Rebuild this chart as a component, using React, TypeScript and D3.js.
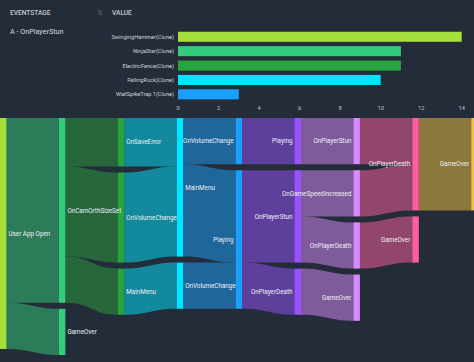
import React from "react";
import * as d3 from "d3";

const W = 474;
const H = 362;
const BG = "#242c39";
const FONT = "Roboto, 'Liberation Sans', sans-serif";

// left table
const tableHeaders = ["EVENTSTAGE", "VALUE"];
const selectedStage = "A - OnPlayerStun";

// bar chart: trap hits for the selected stage
const trapNames = [
  "SwingingHammer(Clone)",
  "NinjaStar(Clone)",
  "ElectricFence(Clone)",
  "FallingRock(Clone)",
  "WallSpikeTrap 1(Clone)",
];
const trapHits = [14, 11, 11, 10, 3];
const valueTicks = [0, 2, 4, 6, 8, 10, 12, 14];

// one colour per step of the flow
const stepColors = [
  "#a5df3b",
  "#33cc7b",
  "#28a340",
  "#00e5ff",
  "#1a9ffd",
  "#9a52ff",
  "#d98aff",
  "#ff5fa0",
  "#f3c142",
];

const flowNodes = [
  { id: "open", name: "User App Open", step: 0 },
  { id: "cam1", name: "OnCamOrthSizeSet", step: 1 },
  { id: "over1", name: "GameOver", step: 1 },
  { id: "save2", name: "OnSaveError", step: 2 },
  { id: "vol2", name: "OnVolumeChange", step: 2 },
  { id: "menu2", name: "MainMenu", step: 2 },
  { id: "menu3", name: "MainMenu", step: 3 },
  { id: "vol3", name: "OnVolumeChange", step: 3 },
  { id: "vol4", name: "OnVolumeChange", step: 4 },
  { id: "play4", name: "Playing", step: 4 },
  { id: "play5", name: "Playing", step: 5 },
  { id: "stun5", name: "OnPlayerStun", step: 5 },
  { id: "death5", name: "OnPlayerDeath", step: 5 },
  { id: "stun6", name: "OnPlayerStun", step: 6 },
  { id: "speed6", name: "OnGameSpeedIncreased", step: 6 },
  { id: "death6", name: "OnPlayerDeath", step: 6 },
  { id: "over6", name: "GameOver", step: 6 },
  { id: "death7", name: "OnPlayerDeath", step: 7 },
  { id: "over7", name: "GameOver", step: 7 },
  { id: "over8", name: "GameOver", step: 8 },
];

const flowLinks: [string, string, number][] = [
  ["open", "cam1", 80],
  ["open", "over1", 20],
  ["cam1", "save2", 21],
  ["cam1", "vol2", 39],
  ["cam1", "menu2", 20],
  ["save2", "menu3", 21],
  ["vol2", "menu3", 39],
  ["menu2", "vol3", 20],
  ["menu3", "vol4", 20],
  ["menu3", "play4", 40],
  ["vol3", "play4", 20],
  ["vol4", "play5", 20],
  ["play4", "stun5", 40],
  ["play4", "death5", 20],
  ["play5", "stun6", 20],
  ["stun5", "speed6", 20],
  ["stun5", "death6", 20],
  ["death5", "over6", 20],
  ["stun6", "death7", 20],
  ["speed6", "death7", 20],
  ["death6", "over7", 20],
  ["death7", "over8", 40],
];

// sankey geometry
const top = 118;
const nodeW = 6.5;
const nodePad = 6;

function layoutFlow() {
  const x = d3.scaleLinear().domain([0, 8]).range([0, 471.2]);
  const h = d3.scaleLinear().domain([0, 100]).range([0, 231]);

  const nodes = flowNodes.map((n) => ({ ...n, value: 0, y0: 0, y1: 0, x0: 0, x1: 0, out: [] as any[], inc: [] as any[] }));
  const byId = new Map(nodes.map((n) => [n.id, n]));
  const links = flowLinks.map(([s, t, v]) => {
    const l = { source: byId.get(s)!, target: byId.get(t)!, value: v, sy0: 0, sy1: 0, ty0: 0, ty1: 0 };
    l.source.out.push(l);
    l.target.inc.push(l);
    return l;
  });

  nodes.forEach((n) => {
    n.value = Math.max(d3.sum(n.out, (l: any) => l.value), d3.sum(n.inc, (l: any) => l.value));
    n.x0 = x(n.step);
    n.x1 = n.x0 + nodeW;
  });

  // stack each step from the top
  d3.groups(nodes, (n) => n.step).forEach(([, col]) => {
    let y = top;
    col.forEach((n) => {
      n.y0 = y;
      n.y1 = y + h(n.value);
      y = n.y1 + nodePad;
    });
  });

  nodes.forEach((n) => {
    let sy = n.y0;
    n.out.sort((a: any, b: any) => a.target.y0 - b.target.y0).forEach((l: any) => {
      l.sy0 = sy;
      sy += h(l.value);
      l.sy1 = sy;
    });
    let ty = n.y0;
    n.inc.sort((a: any, b: any) => a.source.y0 - b.source.y0).forEach((l: any) => {
      l.ty0 = ty;
      ty += h(l.value);
      l.ty1 = ty;
    });
  });

  return { nodes, links };
}

function bandPath(l: any) {
  const x0 = l.source.x1;
  const x1 = l.target.x0;
  const xm = (x0 + x1) / 2;
  return `M${x0},${l.sy0}C${xm},${l.sy0} ${xm},${l.ty0} ${x1},${l.ty0}` +
    `L${x1},${l.ty1}C${xm},${l.ty1} ${xm},${l.sy1} ${x0},${l.sy1}Z`;
}

export default function App() {
  const x = d3.scaleLinear().domain([0, 14]).range([178, 461.7]);
  const y = d3.scaleBand().domain(trapNames).range([27.4, 103.7]).padding(0.3);
  const { nodes, links } = layoutFlow();

  return (
    <>
      <style>{`body{margin:0;background:${BG}}`}</style>
      <svg width={W} height={H} style={{ display: "block", background: BG }} fontFamily={FONT}>
        {/* table header */}
        <text x={10} y={15} fontSize={6.6} fontWeight={500} fill="#c4c8cf">{tableHeaders[0]}</text>
        <text x={97} y={15} fontSize={6.5} fill="#5f6773">⇅</text>
        <text x={112} y={15} fontSize={6.6} fontWeight={500} fill="#c4c8cf">{tableHeaders[1]}</text>
        <text x={10} y={33.5} fontSize={7.2} fill="#d6dae0">{selectedStage}</text>

        {/* bar chart */}
        {trapNames.map((name, i) => (
          <g key={name}>
            <rect x={x(0)} y={y(name)} width={x(trapHits[i]) - x(0)} height={y.bandwidth()} fill={stepColors[i]} />
            <text x={x(0) - 4} y={y(name)! + y.bandwidth() / 2} dy="0.35em" textAnchor="end" fontSize={5.6} fill="#cfd3d9">
              {name}
            </text>
          </g>
        ))}
        {valueTicks.map((t) => (
          <text key={t} x={x(t)} y={108} dy="0.35em" textAnchor="middle" fontSize={5.6} fill="#c3c7ce">{t}</text>
        ))}

        {/* flow */}
        <g>
          {links.map((l, i) => (
            <path key={i} d={bandPath(l)} fill={stepColors[l.target.step]} fillOpacity={0.5} />
          ))}
          {nodes.map((n) => (
            <rect key={n.id} x={n.x0} y={n.y0} width={nodeW} height={n.y1 - n.y0} fill={stepColors[n.step]} />
          ))}
          {nodes.map((n) => {
            const left = (n.x0 + n.x1) / 2 < W / 2;
            return (
              <text
                key={n.id + "-l"}
                x={left ? n.x1 + 2 : n.x0 - 2}
                y={(n.y0 + n.y1) / 2}
                dy="0.35em"
                textAnchor={left ? "start" : "end"}
                fontSize={6.3}
                fill="#eef0f5"
              >
                {n.name}
              </text>
            );
          })}
        </g>
      </svg>
    </>
  );
}
